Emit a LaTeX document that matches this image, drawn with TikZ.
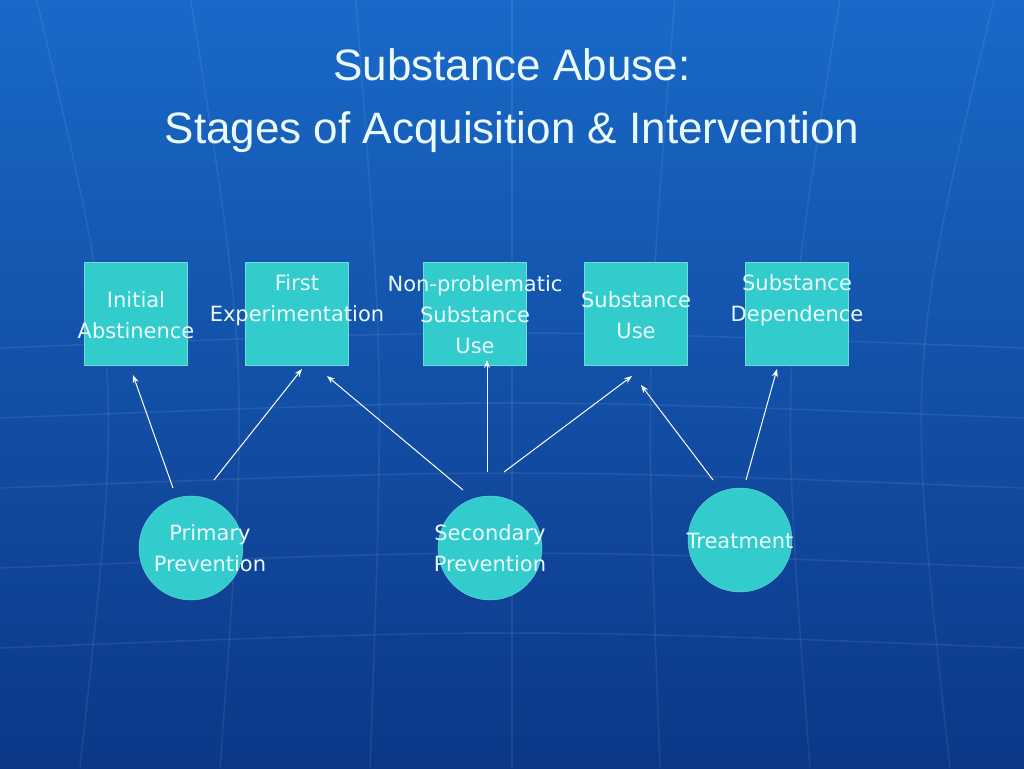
\documentclass[tikz,border=0pt]{standalone}
\usepackage{fontspec}
\setmainfont{DejaVu Sans}
\newfontfamily\titlefont{Liberation Sans}
\usetikzlibrary{arrows.meta,shadows}
\definecolor{bgtop}{RGB}{25,105,200}
\definecolor{bgbot}{RGB}{12,55,135}
\definecolor{teal}{RGB}{51,204,204}
\definecolor{txt}{RGB}{235,250,255}
\tikzset{
 stage/.style={draw=teal!70!white,fill=teal,minimum width=103pt,minimum height=103pt,inner sep=0pt},
 circ/.style={circle,draw=teal!70!white,fill=teal,minimum size=104pt,inner sep=0pt},
 lab/.style={text=txt,font=\fontsize{21}{31}\selectfont,align=center},
 arr/.style={draw=white,line width=1pt,-{Stealth[length=8pt,width=6pt]}},
 ttl/.style={text=txt,font=\titlefont\fontsize{44}{66}\selectfont,align=center}
}
\begin{document}
\begin{tikzpicture}[x=1pt,y=1pt]
\shade[top color=bgtop,bottom color=bgbot] (0,0) rectangle (1024,768);
\useasboundingbox (0,0) rectangle (1024,768);
\foreach \yy in {120,200,280,350,420}
  \draw[white,opacity=0.08,line width=1.5pt] (0,\yy) .. controls (512,\yy+20) .. (1024,\yy);
\foreach \xx in {80,220,370,512,660,810,950}
  \draw[white,opacity=0.08,line width=1.5pt] (\xx,0) .. controls ({512+(\xx-512)*0.9},400) .. ({512+(\xx-512)*1.1},768);
\node[ttl] (t1) at (512,703) {Substance Abuse:};
\node[ttl] (t2) at (512,636) {Stages of Acquisition \& Intervention};
% boxes
\node[stage] (b1) at (135.5,454.5) {};
\node[stage] (b2) at (296.5,454.5) {};
\node[stage] (b3) at (474.5,454.5) {};
\node[stage] (b4) at (635.5,454.5) {};
\node[stage] (b5) at (796.5,454.5) {};
\node[lab] (l1) at (136,453) {Initial\\Abstinence};
\node[lab] (l2) at (297,468) {First\\Experimentation};
\node[lab] (l3) at (475,453) {Non-problematic\\Substance\\Use};
\node[lab] (l4) at (636,453) {Substance\\Use};
\node[lab] (l5) at (797,468) {Substance\\Dependence};
% circles
\node[circ] (c1) at (191,220) {};
\node[circ] (c2) at (490,220) {};
\node[circ] (c3) at (740,228) {};
\node[lab] (p1) at (210,220) {Primary\\Prevention};
\node[lab] (p2) at (490,220) {Secondary\\Prevention};
\node[lab] (p3) at (740,227) {Treatment};
% arrow endpoints
\coordinate (s1) at (173,280); \coordinate (e1) at (133,393);
\coordinate (s2) at (214,288); \coordinate (e2) at (302,399);
\coordinate (s3) at (463,278); \coordinate (e3) at (327,392);
\coordinate (s4) at (487,296); \coordinate (e4) at (487,408);
\coordinate (s5) at (504,296); \coordinate (e5) at (632,392);
\coordinate (s6) at (713,288); \coordinate (e6) at (641,383);
\coordinate (s7) at (746,288); \coordinate (e7) at (777,399);
\foreach \i in {1,...,7} \draw[arr] (s\i) -- (e\i);
\end{tikzpicture}
\end{document}
